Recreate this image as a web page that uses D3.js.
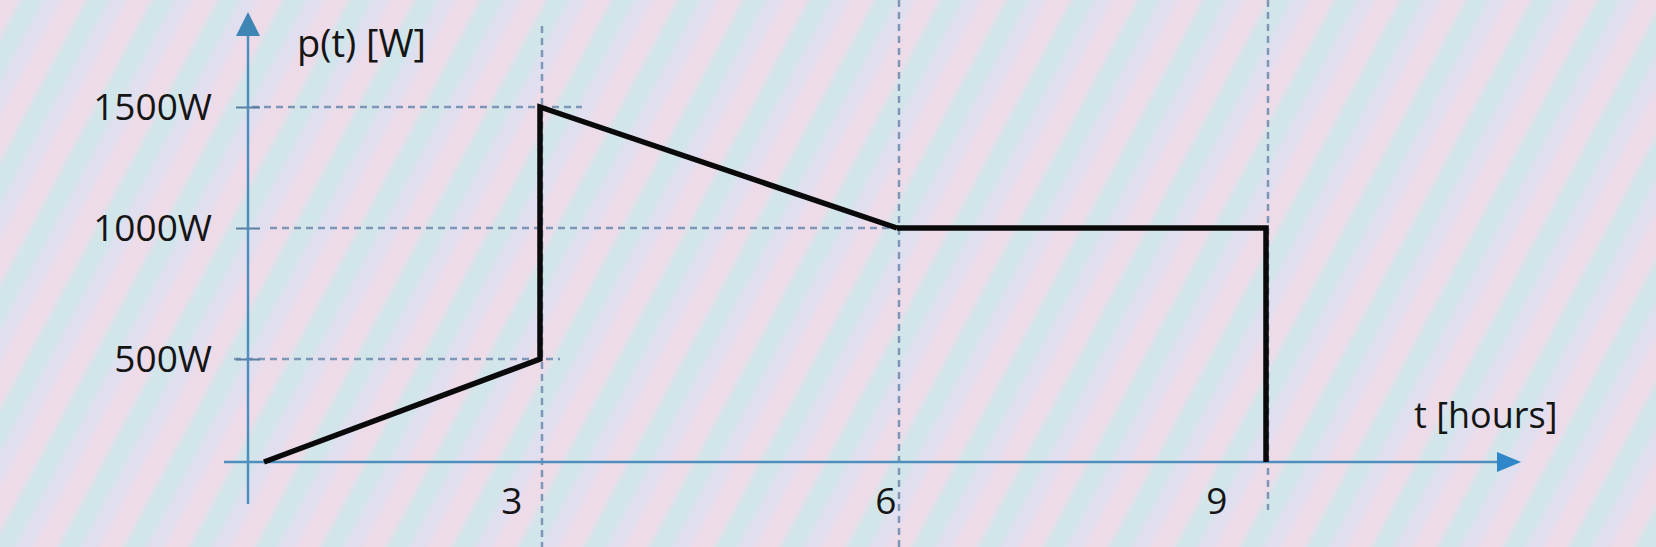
<!DOCTYPE html>
<html>
<head>
<meta charset="utf-8">
<script src="https://cdn.jsdelivr.net/npm/d3@7"></script>
<style>
  html, body { margin: 0; padding: 0; }
  body {
    width: 1656px; height: 547px; overflow: hidden;
    background-color: #e7e8ee;
    background-image:
      repeating-linear-gradient(118deg,
        rgba(255,190,220,0.30) 0px, rgba(255,190,220,0.30) 14px,
        rgba(160,225,225,0.30) 22px, rgba(160,225,225,0.30) 34px,
        rgba(200,190,245,0.22) 42px, rgba(200,190,245,0.22) 50px,
        rgba(255,190,220,0.30) 58px);
  }
  svg { display: block; }
  text { font-family: "Open Sans", "Noto Sans", sans-serif; fill: #151515; }
</style>
</head>
<body>
<svg id="chart" width="1656" height="547"></svg>
<script>
// ---- data ----
const timeTicks = [3, 6, 9];                 // hours
const powerTicks = [500, 1000, 1500];        // W
const powerTickLabels = ["500W", "1000W", "1500W"];
const segment1T = [0, 3, 3, 6];
const segment1P = [0, 500, 1500, 1000];
const segment2T = [6, 9, 9];
const segment2P = [1000, 1000, 0];
const yTitle = "p(t) [W]";
const xTitle = "t [hours]";

// ---- scales (figure is not drawn to a uniform scale) ----
const svg = d3.select("#chart");
const x = d3.scaleLinear().domain([0, 3, 6, 9]).range([264, 540, 897, 1266]);
const y = d3.scaleLinear().domain([0, 500, 1000, 1500]).range([462, 359, 228, 107]);

const axisColor = "#4f8fbd";
const dashColor = "#7f97b6";
const x0 = x(0) - 16;   // y-axis position
const y0 = y(0);

// ---- dashed guide lines ----
const guides = svg.append("g").attr("stroke", dashColor).attr("stroke-width", 2.5)
  .attr("stroke-dasharray", "7,5").attr("fill", "none");
const hGuideEnd = {500: x(3) + 20, 1000: x(6), 1500: x(3) + 42};
const hGuideStart = {500: x0 - 14, 1000: x0 + 22, 1500: x0 + 4};
powerTicks.forEach(p => {
  guides.append("line")
    .attr("x1", hGuideStart[p]).attr("x2", hGuideEnd[p])
    .attr("y1", y(p)).attr("y2", y(p));
});
const vGuideTop = {3: 26, 6: 0, 9: 0};
const vGuideBottom = {3: 547, 6: 547, 9: 510};
timeTicks.forEach(t => {
  guides.append("line")
    .attr("x1", x(t) + 2).attr("x2", x(t) + 2)
    .attr("y1", vGuideTop[t]).attr("y2", vGuideBottom[t]);
});

// ---- axes ----
const yAxis = d3.axisLeft(y).tickValues(powerTicks)
  .tickFormat((d, i) => powerTickLabels[i]).tickSizeInner(12).tickSizeOuter(0).tickPadding(24);
const gy = svg.append("g").attr("transform", `translate(${x0},0)`).call(yAxis);
gy.select(".domain").remove();
gy.selectAll(".tick line").attr("stroke", "#5a7fa0").attr("stroke-width", 2).attr("x2", 12).attr("x1", -12);
gy.selectAll(".tick text").style("font-size", "37px").attr("dy", "0.35em").attr("fill", "#151515");

const xLabelOffset = {3: -18, 6: -1, 9: -39};
const xAxis = d3.axisBottom(x).tickValues(timeTicks).tickSize(0).tickPadding(0);
const gx = svg.append("g").attr("transform", `translate(0,${y0})`).call(xAxis);
gx.select(".domain").remove();
gx.selectAll(".tick text").style("font-size", "37px")
  .attr("text-anchor", "end").attr("x", d => xLabelOffset[d]).attr("y", 52).attr("dy", 0).attr("fill", "#151515");

// axis lines with arrowheads
svg.append("line").attr("x1", x0).attr("x2", x0).attr("y1", 504).attr("y2", 30)
  .attr("stroke", axisColor).attr("stroke-width", 2.5);
svg.append("path")
  .attr("d", `M${x0},12 L${x0 - 12},36 L${x0 + 12},36 Z`).attr("fill", "#3f86b5");
svg.append("line").attr("x1", 224).attr("x2", 1500).attr("y1", y0).attr("y2", y0)
  .attr("stroke", axisColor).attr("stroke-width", 2.5);
svg.append("path")
  .attr("d", `M1521,${y0} L1497,${y0 - 10} L1497,${y0 + 10} Z`).attr("fill", "#2f86c8");

// axis titles
svg.append("text").attr("x", 297).attr("y", 57).style("font-size", "38px").text(yTitle);
svg.append("text").attr("x", 1414).attr("y", 428).style("font-size", "36px").text(xTitle);

// ---- power curve ----
const line = d3.line().x(d => x(d[0])).y(d => y(d[1])).curve(d3.curveLinear);
const seg1 = segment1T.map((t, i) => [t, segment1P[i]]);
const seg2 = segment2T.map((t, i) => [t, segment2P[i]]);
[seg1, seg2].forEach(seg => {
  svg.append("path").datum(seg).attr("d", line)
    .attr("fill", "none").attr("stroke", "#0a0a0a").attr("stroke-width", 5.5)
    .attr("stroke-linejoin", "miter");
});
</script>
</body>
</html>
